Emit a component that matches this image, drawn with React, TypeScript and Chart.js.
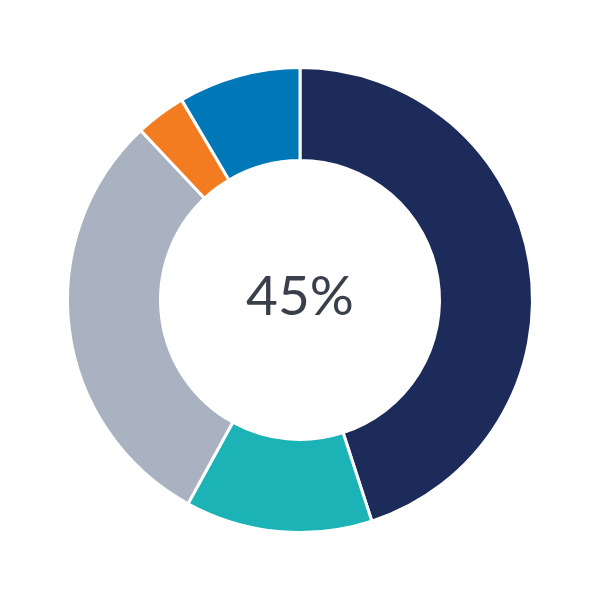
import React, { useEffect, useRef } from "react";
import { Chart, registerables } from "chart.js";

Chart.register(...registerables);

const categories = ["Navy", "Teal", "Gray", "Orange", "Blue"];
const values = [45, 13, 30, 3.5, 8.5];
const colors = ["#1c2b5a", "#1bb3b6", "#a8b2c0", "#f47c20", "#0077b6"];
const centerLabel = "45%";

export default function App() {
  const ref = useRef<HTMLCanvasElement | null>(null);
  useEffect(() => {
    if (!ref.current) return;
    const chart = new Chart(ref.current, {
      type: "doughnut",
      data: {
        labels: categories,
        datasets: [
          {
            data: values,
            backgroundColor: colors,
            borderColor: "#ffffff",
            borderWidth: 3,
            hoverOffset: 0,
          },
        ],
      },
      options: {
        animation: false,
        responsive: false,
        cutout: "60%",
        layout: { padding: 66 },
        plugins: { legend: { display: false }, tooltip: { enabled: false } },
      },
    });
    return () => chart.destroy();
  }, []);
  return (
    <div style={{ position: "absolute", left: 0, top: 0, width: 600, height: 600, background: "#fff" }}>
      <canvas ref={ref} width={600} height={600} style={{ display: "block" }} />
      <div
        style={{
          position: "absolute",
          left: 0,
          top: 0,
          width: 600,
          height: 600,
          display: "flex",
          alignItems: "center",
          justifyContent: "center",
          fontFamily: "Lato, sans-serif",
          fontSize: 55,
          fontWeight: 400,
          color: "#3a404b",
          pointerEvents: "none",
        }}
      >
        <span style={{ transform: "translateY(-6px)" }}>{centerLabel}</span>
      </div>
    </div>
  );
}
